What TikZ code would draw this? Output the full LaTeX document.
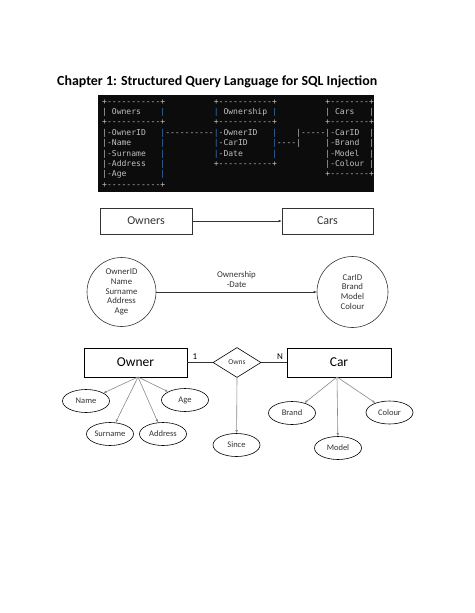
\documentclass[tikz,border=0pt]{standalone}
\usepackage{fontspec}
\setmainfont{Carlito}
\setmonofont{DejaVu Sans Mono}
\usetikzlibrary{shapes.geometric,arrows.meta}
\definecolor{consolebg}{HTML}{0C0C0C}
\definecolor{consoletext}{HTML}{C0C0C0}
\definecolor{barblue}{HTML}{3B78C8}
\definecolor{inkgray}{HTML}{333333}
\definecolor{linegray}{HTML}{8A8A8A}
\newcommand\bb{\textcolor{barblue}{|}}
\begin{document}
\begin{tikzpicture}[x=1pt,y=-1pt,
  conline/.style={anchor=west,inner sep=0pt,text height=6pt,text depth=2pt,
    font=\ttfamily\fontsize{8.06}{10}\selectfont,text=consoletext},
  plainbox/.style={draw=inkgray,line width=0.6pt,inner sep=0pt,text=inkgray},
  circ/.style={draw=inkgray,line width=0.6pt,circle,inner sep=0pt,text=inkgray,
    align=center,font=\fontsize{8.8}{9.7}\selectfont},
  attr/.style={draw=black,line width=0.6pt,ellipse,inner sep=0pt,minimum width=47,
    minimum height=23,text=inkgray,font=\fontsize{8.5}{9}\selectfont},
  tip/.style={-{Latex[length=3pt,width=2.6pt]}},
  erline/.style={tip,draw=linegray,line width=0.6pt},
  midline/.style={tip,draw=inkgray,line width=0.6pt},
]
\useasboundingbox (0,0) rectangle (474,613);
\fill[white] (0,0) rectangle (474,613);

% title
\node[anchor=base west,inner sep=0pt,font=\bfseries\fontsize{13.9}{17}\selectfont] (title)
  at (57,85) {Chapter 1: Structured Query Language for SQL Injection};

% console screenshot
\node[fill=consolebg,inner sep=0pt,minimum width=276,minimum height=97] (console) at (236,143.5) {};
\node[conline] (r0) at (102,102.0) {+-----------+~~~~~~~~~~+-----------+~~~~~~~~~~+--------+};
\node[conline] (r1) at (102,112.4) {|~Owners~~~~\bb~~~~~~~~~~\bb~Ownership~\bb~~~~~~~~~~|~Cars~~~|};
\node[conline] (r2) at (102,122.8) {+-----------+~~~~~~~~~~+-----------+~~~~~~~~~~+--------+};
\node[conline] (r3) at (102,133.2) {|-OwnerID~~~\bb----------\bb-OwnerID~~~\bb~~~~|-----|-CarID~~|};
\node[conline] (r4) at (102,143.6) {|-Name~~~~~~\bb~~~~~~~~~~\bb-CarID~~~~~\bb----|~~~~~|-Brand~~|};
\node[conline] (r5) at (102,154.0) {|-Surname~~~\bb~~~~~~~~~~\bb-Date~~~~~~\bb~~~~~~~~~~|-Model~~|};
\node[conline] (r6) at (102,164.4) {|-Address~~~\bb~~~~~~~~~~+-----------+~~~~~~~~~~|-Colour~|};
\node[conline] (r7) at (102,174.8) {|-Age~~~~~~~\bb~~~~~~~~~~~~~~~~~~~~~~~~~~~~~~~~~+--------+};
\node[conline] (r8) at (102,185.2) {+-----------+};

% simple box diagram
\node[plainbox,minimum width=92,minimum height=26,font=\fontsize{12}{14}\selectfont] (owners) at (146,221) {Owners};
\node[plainbox,minimum width=91,minimum height=26,font=\fontsize{12}{14}\selectfont] (cars) at (327.5,221) {Cars};
\draw[midline] (owners) -- (cars);

% circle diagram
\node[circ,minimum size=69] (oc) at (121.5,292) {OwnerID\\Name\\Surname\\Address\\Age};
\node[circ,minimum size=71] (cc) at (352.5,292) {CarID\\Brand\\Model\\Colour};
\draw[midline] (oc) -- node[above=1pt,align=center,text=inkgray,font=\fontsize{8.8}{10}\selectfont] (ownlab) {Ownership\\-Date} (cc);

% ER diagram
\node[draw=black,line width=0.6pt,inner sep=0pt,minimum width=103,minimum height=29,
  font=\fontsize{13.5}{16}\selectfont] (owner) at (135.5,362.5) {Owner};
\node[draw=black,line width=0.6pt,inner sep=0pt,minimum width=104,minimum height=29,
  font=\fontsize{13.5}{16}\selectfont] (car) at (339,362.5) {Car};
\node[draw=black,line width=0.6pt,diamond,aspect=1.6,inner sep=0pt,minimum width=48,
  minimum height=30,text=inkgray,font=\fontsize{7.5}{8}\selectfont] (owns) at (237,362.5) {Owns};
\draw[draw=inkgray,line width=0.6pt] (owner) -- (owns);
\draw[draw=inkgray,line width=0.6pt] (owns) -- (car);
\node[font=\fontsize{9}{10}\selectfont,inner sep=0pt] (one) at (195,356.5) {1};
\node[font=\fontsize{9}{10}\selectfont,inner sep=0pt] (many) at (280,356.5) {N};

\node[attr] (name) at (86,401) {Name};
\node[attr] (age) at (185,400) {Age};
\node[attr] (surname) at (110,434) {Surname};
\node[attr] (address) at (163,434) {Address};
\node[attr] (since) at (236.5,445) {Since};
\node[attr] (brand) at (292,413) {Brand};
\node[attr] (colour) at (389.5,412.5) {Colour};
\node[attr] (model) at (338,448) {Model};

\coordinate (ob) at (138,377);
\coordinate (cb) at (337,377);
\draw[erline] (ob) -- (name);
\draw[erline] (ob) -- (age);
\draw[erline] (ob) -- (surname);
\draw[erline] (ob) -- (address);
\draw[erline] (owns.south) -- (since);
\draw[erline] (cb) -- (brand);
\draw[erline] (cb) -- (colour);
\draw[erline] (cb) -- (model);
\end{tikzpicture}
\end{document}
